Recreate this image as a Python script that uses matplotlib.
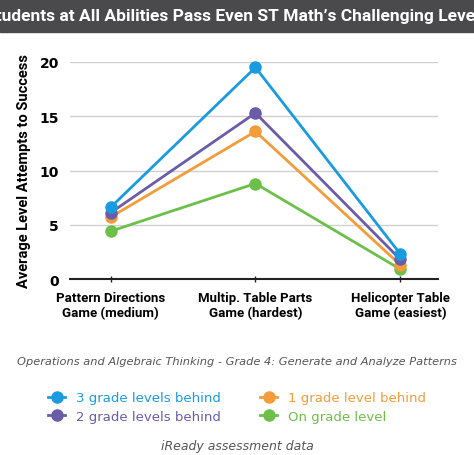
import matplotlib
matplotlib.use("Agg")
import matplotlib.pyplot as plt
from matplotlib.lines import Line2D

categories = ["Pattern Directions\nGame (medium)", "Multip. Table Parts\nGame (hardest)", "Helicopter Table\nGame (easiest)"]
series_names = ["3 grade levels behind", "2 grade levels behind", "1 grade level behind", "On grade level"]
three_behind = [6.6, 19.5, 2.3]
two_behind = [6.1, 15.3, 1.8]
one_behind = [5.7, 13.6, 1.3]
on_grade = [4.4, 8.8, 0.9]
colors = ["#1a9be0", "#6b5ca8", "#f39c3a", "#6cc04a"]
yticks = [0, 5, 10, 15, 20]

fig = plt.figure(figsize=(4.74, 4.56), dpi=100)
fig.patches.append(plt.Rectangle((0, 1 - 33/456), 1, 33/456, transform=fig.transFigure, color="#4a4a4c", zorder=0))
fig.text(0.5, 1 - 16/456, "Students at All Abilities Pass Even ST Math\u2019s Challenging Levels",
         ha="center", va="center", color="white", fontsize=12.5, fontweight="bold", family="Roboto", fontstretch="condensed")

ax = fig.add_axes([70/474, 1 - 280/456, 368/474, 217/456])
x = list(range(len(categories)))
for vals, c in zip([on_grade, one_behind, two_behind, three_behind], colors[::-1]):
    ax.plot(x, vals, color=c, lw=2, marker="o", ms=8, zorder=3, clip_on=False)
ax.set_xlim(-0.28, 2.26)
ax.set_ylim(0, 20)
ax.set_yticks(yticks)
ax.set_yticklabels([str(v) for v in yticks], fontweight="bold", fontsize=10)
ax.grid(axis="y", color="#d0d0d0", lw=1)
ax.set_axisbelow(True)
for s in ["top", "right", "left"]:
    ax.spines[s].set_visible(False)
ax.spines["bottom"].set_color("#222")
ax.spines["bottom"].set_linewidth(1.5)
ax.tick_params(axis="y", length=0, pad=8)
ax.set_xticks(x)
ax.set_xticklabels(categories, fontweight="bold", fontsize=9.5, family="Roboto", fontstretch="condensed")
ax.tick_params(axis="x", length=5, width=1, color="#222", direction="inout", pad=6)
ax.set_ylabel("Average Level Attempts to Success", fontweight="bold", fontsize=10.5, family="Roboto", labelpad=6)

fig.text(0.5, 1 - 362/456, "Operations and Algebraic Thinking - Grade 4: Generate and Analyze Patterns",
         ha="center", va="center", style="italic", color="#555", fontsize=8.2)
handles = [Line2D([0, 1], [0, 0], color=c, marker="o", ms=8, lw=2, markevery=[0]) for c in colors]
leg = fig.legend(handles, series_names, loc="center", bbox_to_anchor=(0.5, 1 - 408/456), ncol=2,
                 frameon=False, fontsize=9.5, handlelength=1.3, columnspacing=3, labelspacing=0.4)
for t, c in zip(leg.get_texts(), colors):
    t.set_color(c)
fig.text(0.5, 1 - 447/456, "iReady assessment data", ha="center", va="center", style="italic", color="#555", fontsize=9)
fig.savefig("out.png", dpi=100)
